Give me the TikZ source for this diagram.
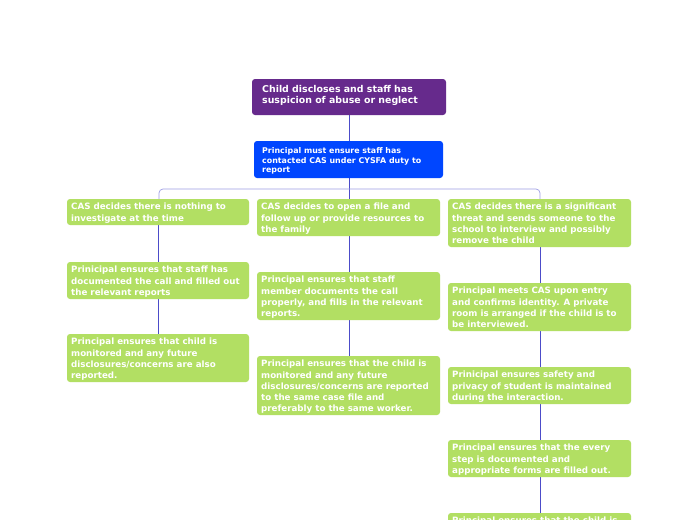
\documentclass[tikz,border=0pt]{standalone}
\usepackage{fontspec}
\setmainfont{DejaVu Sans}
\begin{document}
\begin{tikzpicture}[x=1pt,y=-1pt,
  box/.style={rounded corners=3pt,draw=none},
  txt/.style={anchor=north west,inner sep=0pt,align=left,text=white,font=\bfseries\fontsize{8.7}{11.2}\selectfont},
  conn/.style={draw=blue!70!black!70!white,line width=0.7pt},
  bar/.style={draw=blue!35!white!80!gray,line width=0.7pt,rounded corners=4pt}]
\definecolor{purp}{HTML}{662A8C}
\definecolor{blu}{HTML}{0046FF}
\definecolor{grn}{HTML}{B2DF63}
\begin{scope}
\clip (0,0) rectangle (697,520);
\fill[white] (0,0) rectangle (697,520);
% connectors
\draw[conn] (349,115) -- (349,141);
\draw[conn] (349,178) -- (349,199);
\draw[bar] (159,199) -- (159,189) -- (540,189) -- (540,199);
\draw[conn] (158,225) -- (158,262);
\draw[conn] (158,299) -- (158,334);
\draw[conn] (349,236) -- (349,272);
\draw[conn] (349,320) -- (349,356);
\draw[conn] (540,247) -- (540,283);
\draw[conn] (540,331) -- (540,367);
\draw[conn] (540,404) -- (540,440);
\draw[conn] (540,477) -- (540,513);
% boxes
\newcommand{\bx}[8][]{\fill[box,#7] (#2,#3) rectangle (#4,#5); \node[txt,#1] (#8) at (#2+4,#3+4) {#6};}
\bx[font=\bfseries\fontsize{9.4}{11.6}\selectfont,xshift=6pt,yshift=-2pt]{252}{79}{446}{115}{Child discloses and staff has\\suspicion of abuse or neglect}{purp}{root}
\bx[font=\bfseries\fontsize{7.9}{9.8}\selectfont,xshift=4pt,yshift=-2pt]{254}{141}{443}{178}{Principal must ensure staff has\\contacted CAS under CYSFA duty to\\report}{blu}{pm}
\bx{67}{199}{249}{225}{CAS decides there is nothing to\\investigate at the time}{grn}{a1}
\bx{67}{262}{249}{299}{Prinicipal ensures that staff has\\documented the call and filled out\\the relevant reports}{grn}{a2}
\bx{67}{334}{249}{382}{Principal ensures that child is\\monitored and any future\\disclosures/concerns are also\\reported.}{grn}{a3}
\bx{257}{199}{440}{236}{CAS decides to open a file and\\follow up or provide resources to\\the family}{grn}{b1}
\bx{257}{272}{440}{320}{Principal ensures that staff\\member documents the call\\properly, and fills in the relevant\\reports.}{grn}{b2}
\bx{257}{356}{440}{415}{Principal ensures that the child is\\monitored and any future\\disclosures/concerns are reported\\to the same case file and\\preferably to the same worker.}{grn}{b3}
\bx{448}{199}{631}{247}{CAS decides there is a significant\\threat and sends someone to the\\school to interview and possibly\\remove the child}{grn}{c1}
\bx{448}{283}{631}{331}{Principal meets CAS upon entry\\and confirms identity. A private\\room is arranged if the child is to\\be interviewed.}{grn}{c2}
\bx{448}{367}{631}{404}{Prinicipal ensures safety and\\privacy of student is maintained\\during the interaction.}{grn}{c3}
\bx{448}{440}{631}{477}{Principal ensures that the every\\step is documented and\\appropriate forms are filled out.}{grn}{c4}
\bx{448}{513}{631}{550}{Principal ensures that the child is}{grn}{c5}
\end{scope}
\useasboundingbox (0,0) rectangle (697,520);
\end{tikzpicture}
\end{document}
